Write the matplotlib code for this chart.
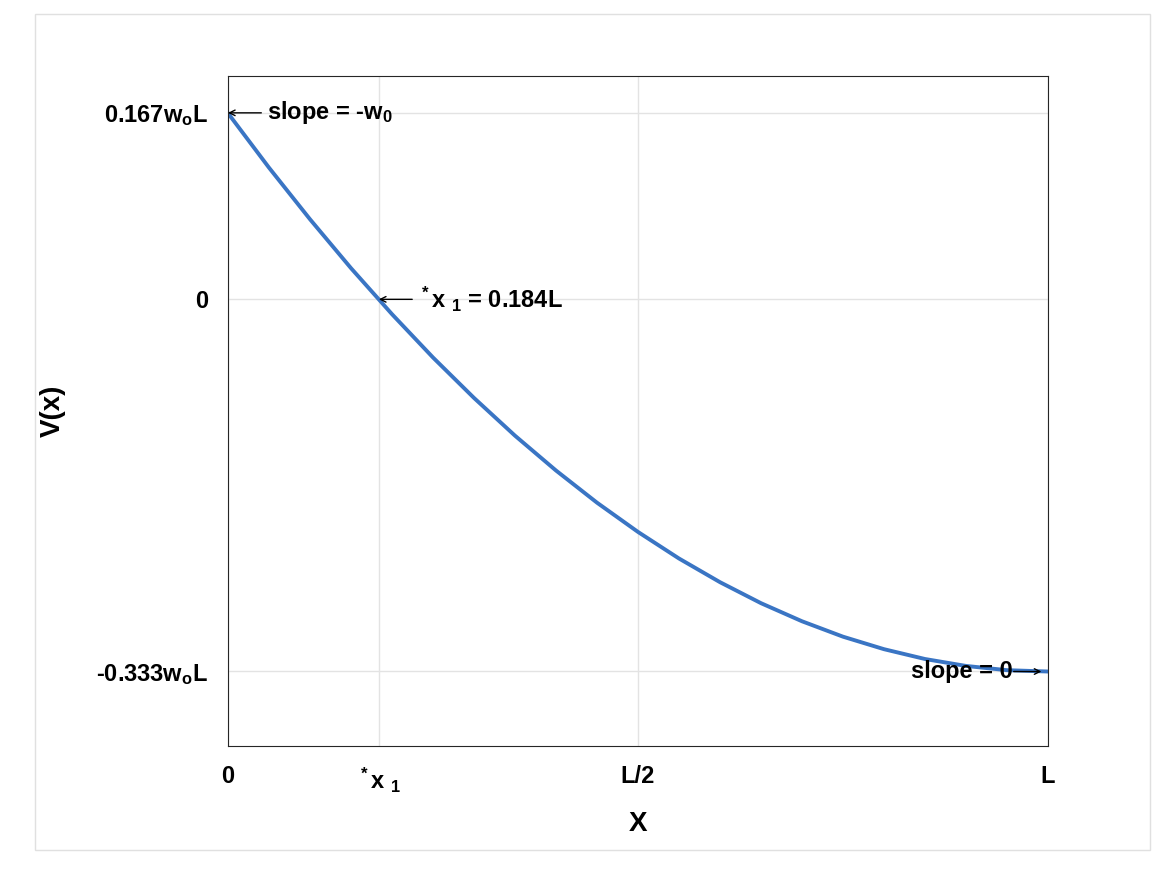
import matplotlib
matplotlib.use("Agg")
import matplotlib.pyplot as plt
from matplotlib.patches import Rectangle

x_vals = [0.0, 0.05, 0.1, 0.15, 0.2, 0.25, 0.3, 0.35, 0.4, 0.45, 0.5,
          0.55, 0.6, 0.65, 0.7, 0.75, 0.8, 0.85, 0.9, 0.95, 1.0]
v_vals = [0.1667, 0.1179, 0.0717, 0.0279, -0.0133, -0.0521, -0.0883, -0.1221,
          -0.1533, -0.1821, -0.2083, -0.2321, -0.2533, -0.2721, -0.2883,
          -0.3021, -0.3133, -0.3221, -0.3283, -0.3321, -0.3333]
xtick_pos = [0, 0.184, 0.5, 1.0]
xtick_lab = ["0", "$^*$x $_{\\mathbf{1}}$", "L/2", "L"]
ytick_pos = [-0.333, 0, 0.167]
ytick_lab = ["-0.333w$_\\mathbf{o}$L", "0", "0.167w$_\\mathbf{o}$L"]

plt.rcParams['font.family'] = ['Liberation Sans', 'DejaVu Sans']
plt.rcParams['mathtext.fontset'] = 'custom'
plt.rcParams['mathtext.rm'] = 'Liberation Sans:bold'
plt.rcParams['mathtext.bf'] = 'Liberation Sans:bold'
plt.rcParams['mathtext.it'] = 'Liberation Sans:bold'
plt.rcParams['mathtext.sf'] = 'Liberation Sans:bold'

FS = 17
fig = plt.figure(figsize=(11.52, 8.82), dpi=100)
fig.patches.append(Rectangle((35/1152, 1-850/882), (1150-35)/1152, (850-14)/882,
                             transform=fig.transFigure, fill=False, ec='#e0e0e0', lw=1))
ax = fig.add_axes([228/1152, 1-746/882, 820/1152, 670/882])
ax.plot(x_vals, v_vals, color='#3a75c4', lw=2.8)
ax.set_xlim(0, 1)
ax.set_ylim(-0.4, 0.2)
ax.set_xticks(xtick_pos)
ax.set_xticklabels(xtick_lab, fontsize=FS, fontweight='bold')
ax.set_yticks(ytick_pos)
ax.set_yticklabels(ytick_lab, fontsize=FS, fontweight='bold')
ax.tick_params(direction='in', length=0, pad=14)
ax.grid(True, color='#e3e3e3', lw=1)
for s in ax.spines.values():
    s.set_color('#262626')
ax.set_xlabel("X", fontsize=20, fontweight='bold', labelpad=12)
ax.set_ylabel("V(x)", fontsize=20, fontweight='bold', labelpad=22)

arrow = dict(arrowstyle='->', lw=1.0, color='black', shrinkA=0, shrinkB=0)
def left_note(x, y, txt):
    ax.annotate("", xy=(x, y), xytext=(24, 0), textcoords='offset points',
                arrowprops=arrow, xycoords='data')
    ax.annotate(txt, xy=(x, y), xytext=(28, 0), textcoords='offset points',
                fontsize=FS, fontweight='bold', va='center', ha='left')

left_note(0.0, 0.167, "slope = -w$_{\\mathbf{0}}$")
left_note(0.184, 0.0, "$^*$x $_{\\mathbf{1}}$ = 0.184L")
ax.annotate("", xy=(0.992, -0.3333), xytext=(-20, 0), textcoords='offset points',
            arrowprops=arrow)
ax.annotate("slope = 0", xy=(0.992, -0.3333), xytext=(-21, 0), textcoords='offset points',
            fontsize=FS, fontweight='bold', va='center', ha='right')
fig.savefig("out.png", dpi=100, facecolor='white')
